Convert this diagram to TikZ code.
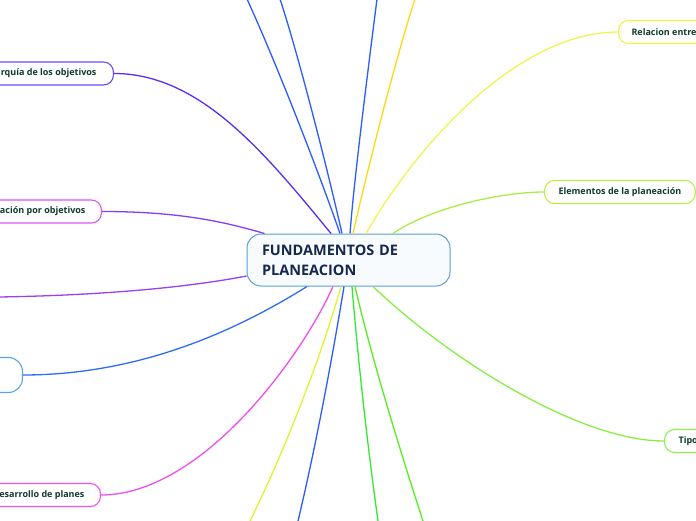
\documentclass[tikz,border=0pt]{standalone}
\usepackage{fontspec}
\setmainfont{Open Sans}
\usepackage{tikz}
\usetikzlibrary{calc}

\definecolor{labeltxt}{HTML}{0E3B2E}
\definecolor{maintxt}{HTML}{15284B}
\definecolor{mainedge}{HTML}{5A9FD8}
\definecolor{mainfill}{HTML}{F7FBFE}
\definecolor{jerarqbox}{HTML}{6A4CFF}
\definecolor{jerarqline}{HTML}{5B2CF0}
\definecolor{adminbox}{HTML}{DD55FF}
\definecolor{adminline}{HTML}{8A3CF5}
\definecolor{leftline}{HTML}{9A40F0}
\definecolor{bluebox}{HTML}{5AA5E8}
\definecolor{blueline}{HTML}{2D6CF5}
\definecolor{desarrbox}{HTML}{F050F5}
\definecolor{desarrline}{HTML}{EE50EE}
\definecolor{relacbox}{HTML}{EEF53C}
\definecolor{relacline}{HTML}{EEF550}
\definecolor{elembox}{HTML}{B8F048}
\definecolor{elemline}{HTML}{AAEE44}
\definecolor{tipobox}{HTML}{8CF050}
\definecolor{tipoline}{HTML}{88EE44}
\definecolor{topblue}{HTML}{2A5CFF}
\definecolor{goldline}{HTML}{FFD814}
\definecolor{ygline}{HTML}{DDF530}
\definecolor{greenone}{HTML}{33E833}
\definecolor{greentwo}{HTML}{55EE22}

\tikzset{
  topic/.style={draw, line width=1.1pt, rounded corners=10pt, fill=white,
    font=\fontsize{9}{11}\selectfont\bfseries, text=labeltxt,
    minimum height=23pt, inner ysep=0pt},
  mainbox/.style={draw=mainedge, line width=1pt, rounded corners=14pt, fill=mainfill,
    font=\fontsize{14.5}{20}\selectfont\bfseries, text=maintxt, align=left,
    text width=173pt, inner xsep=15pt, minimum height=52pt},
  branch/.style={line width=1.3pt},
}

\begin{document}
\begin{tikzpicture}[x=1pt, y=-1pt]

\useasboundingbox (0,0) rectangle (696,520);

\node [mainbox] (fund) at (348.5,260) {FUNDAMENTOS DE\\PLANEACION};

\node [topic, draw=jerarqbox, anchor=east, inner xsep=17pt] (jerarquia) at (114,73.5) {rquía de los objetivos};
\node [topic, draw=adminbox, anchor=east, inner xsep=16pt] (admin) at (102,211.5) {ración por objetivos};
\node [topic, draw=bluebox, anchor=east, minimum width=60pt, minimum height=35pt, rounded corners=14pt] (blank) at (23,375) {};
\node [topic, draw=desarrbox, anchor=east, inner xsep=16pt] (desarrollo) at (101,495) {esarrollo de planes};
\node [topic, draw=relacbox, anchor=west, inner xsep=13pt] (relacion) at (618,32) {Relacion entre};
\node [topic, draw=elembox, anchor=west, inner xsep=14pt] (elementos) at (544,192) {Elementos de la planeación};
\node [topic, draw=tipobox, anchor=west, inner xsep=14pt] (tipo) at (664,441) {Tipo};

% free ends at the border of the picture
\coordinate (top_a) at (247,-1);
\coordinate (top_b) at (280,-1);
\coordinate (top_c) at (377,-1);
\coordinate (top_d) at (415,-1);
\coordinate (left_a) at (-1,297);
\coordinate (bot_a) at (250,521);
\coordinate (bot_b) at (298,521);
\coordinate (bot_c) at (378,521);
\coordinate (bot_d) at (423,521);

\draw[branch, jerarqline] (jerarquia.east) .. controls (200,73.5) and (265,153) .. ($(fund.north)+(-17.5,0)$);
\draw[branch, adminline] (admin.east) .. controls (180,211.5) and (225,222) .. ($(fund.north west)+(18,0)$);
\draw[branch, leftline] (left_a) .. controls (120,295) and (200,285) .. ($(fund.west)+(0,16)$);
\draw[branch, blueline] (blank.east) .. controls (150,375) and (250,322) .. ($(fund.south)+(-41.5,0)$);
\draw[branch, desarrline] (desarrollo.east) .. controls (200,495) and (300,360) .. ($(fund.south)+(-15.5,0)$);

\draw[branch, relacline] (relacion.west) .. controls (520,32) and (420,140) .. ($(fund.north)+(17.5,0)$);
\draw[branch, elemline] (elementos.west) .. controls (500,192) and (430,208) .. ($(fund.north)+(44.5,0)$);
\draw[branch, tipoline] (tipo.west) .. controls (580,441) and (450,360) .. ($(fund.south)+(24.5,0)$);

\draw[branch, topblue] (top_a) .. controls (275,60) and (318,170) .. ($(fund.north)+(-8.5,0)$);
\draw[branch, topblue] (top_b) .. controls (300,60) and (330,180) .. ($(fund.north)+(-6.5,0)$);
\draw[branch, topblue] (top_c) .. controls (368,70) and (354,180) .. ($(fund.north)+(1.5,0)$);
\draw[branch, goldline] (top_d) .. controls (395,60) and (365,180) .. ($(fund.north)+(4.5,0)$);

\draw[branch, ygline] ($(fund.south)+(-7.5,0)$) .. controls (320,360) and (285,450) .. (bot_a);
\draw[branch, topblue] ($(fund.south)+(-4.5,0)$) .. controls (332,360) and (315,450) .. (bot_b);
\draw[branch, greenone] ($(fund.south)+(3.5,0)$) .. controls (358,360) and (368,450) .. (bot_c);
\draw[branch, greentwo] ($(fund.south)+(6.5,0)$) .. controls (372,360) and (400,450) .. (bot_d);

\end{tikzpicture}
\end{document}
